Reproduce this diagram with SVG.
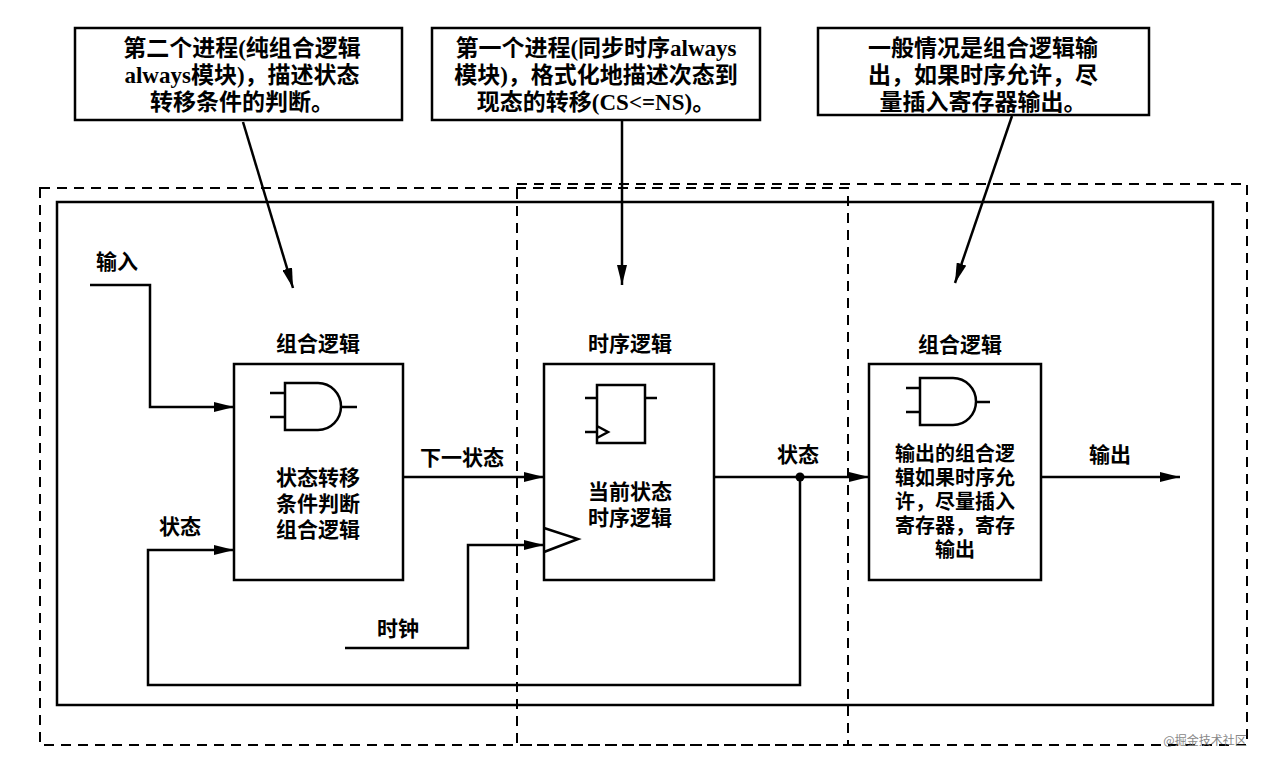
<svg xmlns="http://www.w3.org/2000/svg" width="1268" height="762" viewBox="0 0 1268 762">
<style>
.t{font-family:"Liberation Serif","Noto Sans CJK SC",serif;font-size:21px;fill:#000;text-anchor:middle}
.n{font-size:23px;font-weight:bold}
.b{font-weight:bold}
.l{fill:none;stroke:#000;stroke-width:2.5}
.d{fill:none;stroke:#000;stroke-width:2;stroke-dasharray:10,7}
.box{fill:#fff;stroke:#000;stroke-width:2.5}
</style>
<defs>
<marker id="ab" viewBox="0 0 10 10" refX="10" refY="5" markerWidth="20" markerHeight="10" markerUnits="userSpaceOnUse" orient="auto" preserveAspectRatio="none"><path d="M0,0 L10,5 L0,10 z" fill="#000"/></marker>
</defs>
<rect width="1268" height="762" fill="#fff"/>
<g id="frames">
<rect x="40" y="188" width="808" height="557" class="d"/>
<rect x="517" y="184" width="730" height="561" class="d"/>
<rect x="57" y="202" width="1156" height="503" class="l"/>
</g>
<g id="note1"><rect x="75" y="28" width="327" height="92" class="box"/>
<text class="t n" x="242" y="56">第二个进程(纯组合逻辑</text><text class="t n" x="242" y="83">always模块)，描述状态</text><text class="t n" x="242" y="110">转移条件的判断。</text></g>
<g id="note2"><rect x="432" y="28" width="328" height="92" class="box"/>
<text class="t n" x="596" y="56">第一个进程(同步时序always</text><text class="t n" x="596" y="83">模块)，格式化地描述次态到</text><text class="t n" x="596" y="110">现态的转移(CS&lt;=NS)。</text></g>
<g id="note3"><rect x="818" y="28" width="331" height="87" class="box"/>
<text class="t n" x="983" y="56">一般情况是组合逻辑输</text><text class="t n" x="983" y="83">出，如果时序允许，尽</text><text class="t n" x="983" y="110">量插入寄存器输出。</text></g>
<g id="block1">
<text class="t b" x="318" y="351">组合逻辑</text>
<rect x="234" y="364" width="169" height="216" class="box"/>
<path class="l" d="M285,383 H318 A23,23.5 0 0 1 318,430 H285 Z M270,393 H285 M270,417 H285 M341,407 H357" stroke-width="2"/>
<text class="t b" x="318" y="485">状态转移</text><text class="t b" x="318" y="511">条件判断</text><text class="t b" x="318" y="537">组合逻辑</text>
</g>
<g id="block2">
<text class="t b" x="630" y="351">时序逻辑</text>
<rect x="544" y="364" width="170" height="216" class="box"/>
<path class="l" d="M597,385 H645 V443 H597 Z M585,398 H597 M645,398 H657 M585,432 H597 M597,426 L608,432 L597,438" stroke-width="2"/>
<path class="l" d="M544,528 L578,539 L544,552" stroke-width="2"/>
<text class="t b" x="630" y="499">当前状态</text><text class="t b" x="630" y="525">时序逻辑</text>
</g>
<g id="block3">
<text class="t b" x="960" y="352">组合逻辑</text>
<rect x="869" y="364" width="172" height="216" class="box"/>
<path class="l" d="M920,378 H953 A23,23.5 0 0 1 953,425 H920 Z M906,388 H920 M906,412 H920 M976,402 H990" stroke-width="2"/>
<g class="t b" style="font-size:20px"><text x="955" y="461">输出的组合逻</text><text x="955" y="485">辑如果时序允</text><text x="955" y="509">许，尽量插入</text><text x="955" y="533">寄存器，寄存</text><text x="955" y="557">输出</text></g>
</g>
<g id="connectors">
<path class="l" d="M243,122 L293,288" marker-end="url(#ab)" stroke-width="2"/>
<path class="l" d="M622,120 L622,285" marker-end="url(#ab)" stroke-width="2"/>
<path class="l" d="M1012,116 L955,283" marker-end="url(#ab)" stroke-width="2"/>
<path class="l" d="M90,285 H150 V407 H234" marker-end="url(#ab)"/>
<path class="l" d="M800,477 V685 H148 V550 H234" marker-end="url(#ab)"/>
<path class="l" d="M403,477 H544" marker-end="url(#ab)"/>
<path class="l" d="M345,648 H468 V545 H544" marker-end="url(#ab)"/>
<path class="l" d="M714,477 H869" marker-end="url(#ab)"/>
<path class="l" d="M1041,477 H1180" marker-end="url(#ab)"/>
<circle cx="800" cy="477" r="4.5" fill="#000"/>
</g>
<g id="labels" class="t b">
<text x="117" y="269">输入</text>
<text x="180" y="534">状态</text>
<text x="462" y="465">下一状态</text>
<text x="398" y="636">时钟</text>
<text x="798" y="462">状态</text>
<text x="1110" y="462">输出</text>
</g>
<text x="1205" y="745" style="font-family:'Noto Sans CJK SC',sans-serif;font-size:12px;fill:#888;text-anchor:middle">@掘金技术社区</text>
</svg>
